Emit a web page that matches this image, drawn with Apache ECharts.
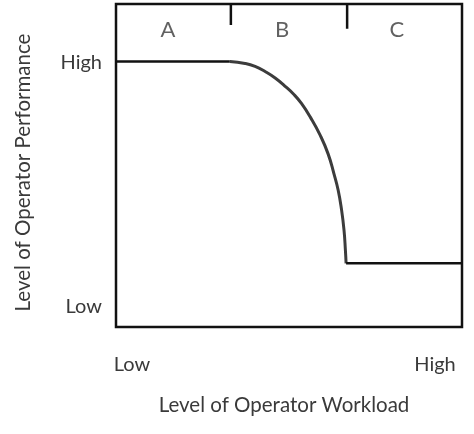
<!DOCTYPE html>
<html><head><meta charset="utf-8">
<script src="https://cdn.jsdelivr.net/npm/echarts@6/dist/echarts.min.js"></script>
<style>html,body{margin:0;padding:0;background:#fff}#c{width:474px;height:434px}</style>
</head><body><div id="c"></div>
<script>
// Performance curve (workload 0-100, performance 0-100)
const flatHighX = [0, 32.9];
const flatHighY = [82.2, 82.2];
const curveX = [32.9, 37.3, 40.2, 43.1, 46.0, 48.8, 51.5, 53.6, 56.2, 59.0, 61.3, 63.0, 64.2, 65.2, 65.9, 66.3, 66.5];
const curveY = [82.2, 81.6, 80.7, 79.1, 77.1, 74.6, 71.9, 69.2, 64.9, 59.4, 53.6, 47.4, 42.4, 36.2, 30.0, 23.8, 19.7];
const flatLowX = [66.5, 100];
const flatLowY = [19.7, 19.7];
// Region dividers at top
const dividerX = [33.2, 66.8];
const dividerBottom = [93.5, 92.3];
// Region labels
const regionNames = ['A', 'B', 'C'];
const regionX = [15.0, 48.0, 81.2];
const regionY = [92.0, 92.0, 92.0];
// Axis labels
const xTickValues = [4.6, 92.2];
const xTickLabels = ['Low', 'High'];
const yTickValues = [6.2, 82.0];
const yTickLabels = ['Low', 'High'];

const font = 'Lato';
const txt = '#3a3a3a';
const pairs = (xs, ys) => xs.map((x, i) => [x, ys[i]]);

const series = [
  { type: 'line', data: pairs(flatHighX, flatHighY), symbol: 'none', lineStyle: { color: '#111', width: 2.5 }, animation: false },
  { type: 'line', data: pairs(curveX, curveY), symbol: 'none', smooth: 0.5, lineStyle: { color: '#3c3c3c', width: 3 }, animation: false },
  { type: 'line', data: pairs(flatLowX, flatLowY), symbol: 'none', lineStyle: { color: '#111', width: 2.5 }, animation: false }
];
dividerX.forEach((x, i) => {
  series.push({ type: 'line', data: [[x, 100], [x, dividerBottom[i]]], symbol: 'none', lineStyle: { color: '#111', width: 2.5 }, animation: false });
});
series.push({
  type: 'scatter', symbolSize: 0, animation: false,
  data: regionNames.map((n, i) => ({ name: n, value: [regionX[i], regionY[i]] })),
  label: { show: true, position: 'inside', formatter: p => p.name, fontFamily: font, fontSize: 22, color: txt }
});

const chart = echarts.init(document.getElementById('c'), null, { renderer: 'canvas' });
chart.setOption({
  backgroundColor: '#fff',
  grid: { left: 116, right: 12, top: 4, bottom: 107, show: true, borderColor: '#111', borderWidth: 2.5, containLabel: false },
  xAxis: {
    type: 'value', min: 0, max: 100,
    name: 'Level of Operator Workload', nameLocation: 'middle', nameGap: 68,
    nameTextStyle: { fontFamily: font, fontSize: 20.5, color: txt, padding: [0, 10, 0, 0] },
    axisLine: { show: false }, axisTick: { show: false }, splitLine: { show: false },
    axisLabel: {
      customValues: xTickValues, margin: 28, fontFamily: font, fontSize: 20, color: txt,
      formatter: v => xTickLabels[xTickValues.indexOf(v)] || ''
    }
  },
  yAxis: {
    type: 'value', min: 0, max: 100,
    name: 'Level of Operator Performance', nameLocation: 'middle', nameGap: 82,
    nameTextStyle: { fontFamily: font, fontSize: 20.5, color: txt, padding: [0, 14, 0, 0] },
    axisLine: { show: false }, axisTick: { show: false }, splitLine: { show: false },
    axisLabel: {
      customValues: yTickValues, margin: 14, fontFamily: font, fontSize: 20, color: txt,
      formatter: v => yTickLabels[yTickValues.indexOf(v)] || ''
    }
  },
  series: series
});
</script>
</body></html>
